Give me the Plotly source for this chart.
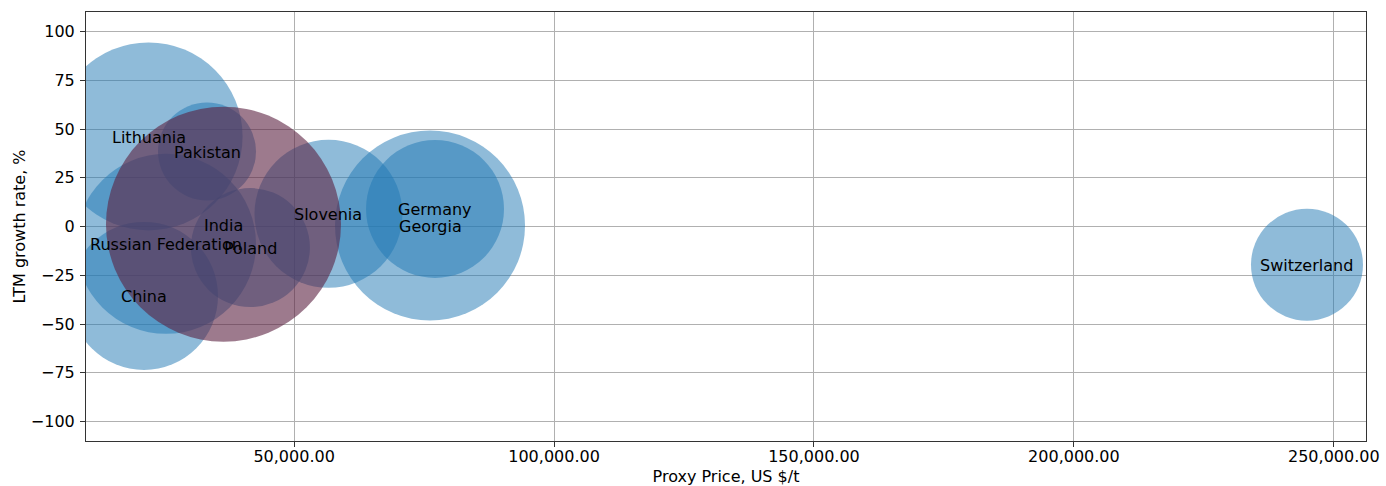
import plotly.graph_objects as go

countries = ["Lithuania", "Pakistan", "Russian Federation", "China", "Poland",
             "Slovenia", "Germany", "Georgia", "Switzerland", "India"]
proxy_price = [22000, 33240, 25350, 21120, 41590, 56610, 77100, 76140, 244840, 36410]
growth_rate = [46.2, 38.5, -8.9, -35.6, -10.8, 6.5, 9.0, 0.5, -19.6, 1.2]
bubble_size = [188, 98, 180, 148, 119, 148, 138, 190, 112, 235]
highlight = ["India"]

x_ticks = [50000, 100000, 150000, 200000, 250000]
y_ticks = [-100, -75, -50, -25, 0, 25, 50, 75, 100]

FONT = "DejaVu Sans"

base_idx = [i for i, c in enumerate(countries) if c not in highlight]
hl_idx = [i for i, c in enumerate(countries) if c in highlight]

fig = go.Figure()
fig.add_trace(go.Scatter(
    x=[proxy_price[i] for i in base_idx],
    y=[growth_rate[i] for i in base_idx],
    mode="markers",
    marker=dict(size=[bubble_size[i] for i in base_idx], sizemode="diameter",
                color="rgba(31,119,180,0.5)", opacity=1, line=dict(width=0)),
    hoverinfo="skip", showlegend=False,
))
fig.add_trace(go.Scatter(
    x=[proxy_price[i] for i in hl_idx],
    y=[growth_rate[i] for i in hl_idx],
    mode="markers",
    marker=dict(size=[bubble_size[i] for i in hl_idx], sizemode="diameter",
                color="rgba(92,33,65,0.6)", opacity=1, line=dict(width=0)),
    hoverinfo="skip", showlegend=False,
))

for name, xv, yv in zip(countries, proxy_price, growth_rate):
    fig.add_annotation(
        x=xv, y=yv, xref="x", yref="y", text=name, showarrow=False,
        xanchor="center", yanchor="middle", yshift=-1,
        font=dict(family=FONT, size=16, color="black"),
    )

axis_common = dict(
    showline=True, mirror=True, linecolor="#333333", linewidth=1,
    ticks="outside", ticklen=5, tickcolor="#333333", tickwidth=1,
    showgrid=True, gridcolor="#b0b0b0", gridwidth=1,
    zeroline=False, layer="above traces", automargin=False,
    tickfont=dict(family=FONT, size=16, color="black"),
)

fig.update_layout(
    width=1386, height=486,
    margin=dict(l=86, r=20, t=12, b=45),
    paper_bgcolor="white", plot_bgcolor="white",
    font=dict(family=FONT, size=16, color="black"),
    xaxis=dict(range=[9962, 256192], tickvals=x_ticks, tickformat=",.2f",
               ticklabelstandoff=-4,
               title=dict(text="Proxy Price, US $/t", standoff=10,
                          font=dict(family=FONT, size=16)),
               **axis_common),
    yaxis=dict(range=[-110, 110], tickvals=y_ticks, ticklabelstandoff=2,
               title=dict(text="LTM growth rate, %", standoff=1,
                          font=dict(family=FONT, size=16)),
               **axis_common),
)

fig.write_html("out.html", config={"displayModeBar": False},
               post_script="document.body.style.margin='0';")
